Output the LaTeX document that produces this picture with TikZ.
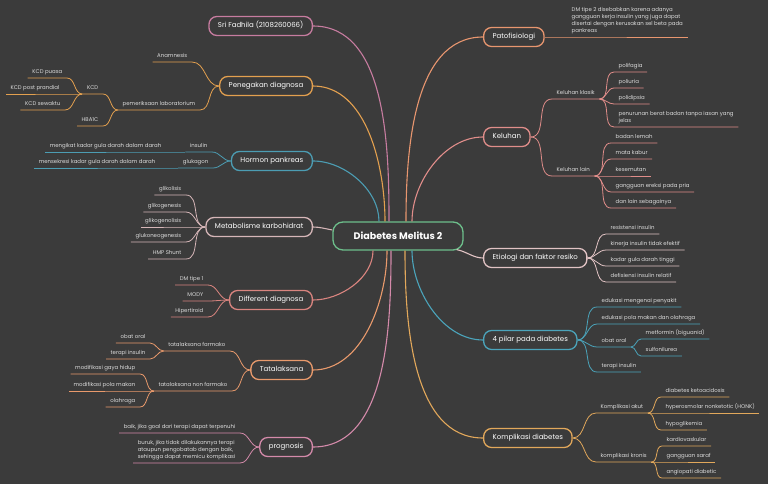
\documentclass[tikz,border=0pt]{standalone}
\usepackage{fontspec}
\setmainfont{Poppins}
\definecolor{bgc}{HTML}{3B3B3B}
\definecolor{txt}{HTML}{DCDCDC}
\definecolor{cDM}{HTML}{6DBF8B}
\definecolor{cSri}{HTML}{C77CA0}
\definecolor{cPen}{HTML}{E3A04F}
\definecolor{cHor}{HTML}{4C9DB3}
\definecolor{cMet}{HTML}{D6B6B8}
\definecolor{cDif}{HTML}{D9847F}
\definecolor{cTat}{HTML}{E99A6C}
\definecolor{cPro}{HTML}{D48AAA}
\definecolor{cPat}{HTML}{E8966F}
\definecolor{cKel}{HTML}{E08D8A}
\definecolor{cEti}{HTML}{E1C3C4}
\definecolor{cPil}{HTML}{4BA4BB}
\definecolor{cKom}{HTML}{E2A85B}

\begin{document}
\begin{tikzpicture}[x=1pt,y=1pt,
    topic/.style={draw=#1,rounded corners=8pt,line width=1.3pt,fill=bgc,text=white,
        font=\fontsize{7}{8}\selectfont,minimum height=19pt,inner xsep=9pt,
        text height=5.2pt,text depth=1.4pt},
    sub/.style={text=txt,font=\fontsize{5.4}{6.9}\selectfont,inner xsep=4.5pt,inner ysep=2.8pt,
        text depth=1.3pt,align=left},
    lk/.style={draw=#1,line width=.8pt},
    ml/.style={draw=#1,line width=1.1pt,looseness=0.9}]
    \fill[bgc] (0,0) rectangle (768,-484);
    \useasboundingbox (0,0) rectangle (768,-484);

    \node[draw=cDM,rounded corners=10pt,line width=1.3pt,fill=bgc,text=white,
        font=\bfseries\fontsize{9.5}{11}\selectfont,minimum height=28pt,minimum width=130pt]
        (dm) at (398,-236) {Diabetes Melitus 2};

    \node[topic=cSri,anchor=east] (sri) at (313,-26) {Sri Fadhila (2108260066)};
    \node[topic=cPen,anchor=east] (peneg) at (313,-86) {Penegakan diagnosa};
    \node[topic=cHor,anchor=east] (hormon) at (313,-161) {Hormon pankreas};
    \node[topic=cMet,anchor=east] (metab) at (313,-227) {Metabolisme karbohidrat};
    \node[topic=cDif,anchor=east] (diff) at (313,-300) {Different diagnosa};
    \node[topic=cTat,anchor=east] (tata) at (313,-370) {Tatalaksana};
    \node[topic=cPro,anchor=east] (prog) at (313,-447) {prognosis};

    \node[topic=cPat,anchor=west] (pato) at (483,-37) {Patofisiologi};
    \node[topic=cKel,anchor=west] (kel) at (483,-137) {Keluhan};
    \node[topic=cEti,anchor=west] (etio) at (483,-258) {Etiologi dan faktor resiko};
    \node[topic=cPil,anchor=west] (pilar) at (483,-340) {4 pilar pada diabetes};
    \node[topic=cKom,anchor=west] (komp) at (483,-438) {Komplikasi diabetes};

    \draw[ml=cSri] (sri.east) to[out=0,in=90] ([xshift=-9pt]dm.north);
    \draw[ml=cPen] (peneg.east) to[out=0,in=90] ([xshift=-13pt]dm.north);
    \draw[ml=cHor] (hormon.east) to[out=0,in=90] ([xshift=-19pt]dm.north);
    \draw[ml=cMet] (metab.east) to[out=0,in=170] ([yshift=6pt]dm.west);
    \draw[ml=cDif] (diff.east) to[out=0,in=-90] ([xshift=-25pt]dm.south);
    \draw[ml=cTat] (tata.east) to[out=0,in=-90] ([xshift=-11pt]dm.south);
    \draw[ml=cPro] (prog.east) to[out=0,in=-90] ([xshift=-7pt]dm.south);
    \draw[ml=cPat] (pato.west) to[out=180,in=90] ([xshift=8pt]dm.north);
    \draw[ml=cKel] (kel.west) to[out=180,in=90] ([xshift=14pt]dm.north);
    \draw[ml=cEti] (etio.west) to[out=180,in=-10] ([xshift=-7pt,yshift=1pt]dm.south east);
    \draw[ml=cPil] (pilar.west) to[out=180,in=-90] ([xshift=14pt]dm.south);
    \draw[ml=cKom] (komp.west) to[out=180,in=-90] ([xshift=7pt]dm.south);

    \node[sub,anchor=south east] (anam) at (192,-62) {Anamnesis};
    \node[sub,anchor=south east] (lab) at (200,-110) {pemeriksaan laboratorium};
    \node[sub,anchor=south east] (kcd) at (103,-94) {KCD};
    \node[sub,anchor=south east] (hba) at (103,-126) {HBA1C};
    \node[sub,anchor=south east] (puasa) at (67,-78) {KCD puasa};
    \node[sub,anchor=south east] (pp) at (64,-94) {KCD post prandial};
    \node[sub,anchor=south east] (sewaktu) at (65,-110) {KCD sewaktu};
    \draw[lk=cPen] (peneg.west) to[out=180,in=0] (anam.south east) -- (anam.south west);
    \draw[lk=cPen] (peneg.west) to[out=180,in=0] (lab.south east) -- (lab.south west);
    \draw[lk=cPen] (lab.south west) to[out=180,in=0] (kcd.south east) -- (kcd.south west);
    \draw[lk=cPen] (lab.south west) to[out=180,in=0] (hba.south east) -- (hba.south west);
    \draw[lk=cPen] (kcd.south west) to[out=180,in=0] (puasa.south east) -- (puasa.south west);
    \draw[lk=cPen] (kcd.south west) to[out=180,in=0] (pp.south east) -- (pp.south west);
    \draw[lk=cPen] (kcd.south west) to[out=180,in=0] (sewaktu.south east) -- (sewaktu.south west);

    \node[sub,anchor=south east] (insulin) at (212,-152) {insulin};
    \node[sub,anchor=south east] (ikat) at (166,-152) {mengikat kadar gula darah dalam darah};
    \node[sub,anchor=south east] (glukagon) at (213,-168) {glukagon};
    \node[sub,anchor=south east] (sekresi) at (160,-168) {mensekresi kadar gula darah dalam darah};
    \draw[lk=cHor] (hormon.west) to[out=180,in=0] (insulin.south east) -- (insulin.south west);
    \draw[lk=cHor] (insulin.south west) to (ikat.south east) -- (ikat.south west);
    \draw[lk=cHor] (hormon.west) to[out=180,in=0] (glukagon.south east) -- (glukagon.south west);
    \draw[lk=cHor] (glukagon.south west) to (sekresi.south east) -- (sekresi.south west);

    \node[sub,anchor=south east] (glikol) at (186,-195) {glikolisis};
    \node[sub,anchor=south east] (glikog) at (186,-212) {glikogenesis};
    \node[sub,anchor=south east] (glikogl) at (186,-227) {glikogenolisis};
    \node[sub,anchor=south east] (gluko) at (186,-242) {glukoneogenesis};
    \node[sub,anchor=south east] (hmp) at (186,-259) {HMP Shunt};
    \foreach \n in {glikol,glikog,glikogl,gluko,hmp}
        \draw[lk=cMet] (metab.west) to[out=180,in=0] (\n.south east) -- (\n.south west);

    \node[sub,anchor=south east] (dm1) at (208,-285) {DM tipe 1};
    \node[sub,anchor=south east] (mody) at (208,-301) {MODY};
    \node[sub,anchor=south east] (hiper) at (208,-317) {Hipertiroid};
    \foreach \n in {dm1,mody,hiper}
        \draw[lk=cDif] (diff.west) to[out=180,in=0] (\n.south east) -- (\n.south west);

    \node[sub,anchor=south east] (farm) at (230,-351) {tatalaksana farmako};
    \node[sub,anchor=south east] (nonf) at (232,-391) {tatalaksana non farmako};
    \node[sub,anchor=south east] (oral) at (150,-343) {obat oral};
    \node[sub,anchor=south east] (tins) at (150,-359) {terapi insulin};
    \node[sub,anchor=south east] (gaya) at (140,-374) {modifikasi gaya hidup};
    \node[sub,anchor=south east] (pola) at (140,-391) {modifikasi pola makan};
    \node[sub,anchor=south east] (olah) at (140,-407) {olahraga};
    \draw[lk=cTat] (tata.west) to[out=180,in=0] (farm.south east) -- (farm.south west);
    \draw[lk=cTat] (tata.west) to[out=180,in=0] (nonf.south east) -- (nonf.south west);
    \foreach \n in {oral,tins}
        \draw[lk=cTat] (farm.south west) to[out=180,in=0] (\n.south east) -- (\n.south west);
    \foreach \n in {gaya,pola,olah}
        \draw[lk=cTat] (nonf.south west) to[out=180,in=0] (\n.south east) -- (\n.south west);

    \node[sub,anchor=south east] (baik) at (240,-433) {baik, jika goal dari terapi dapat terpenuhi};
    \node[sub,anchor=south east] (buruk) at (240,-463) {buruk, jika tidak dilakukannya terapi\\ataupun pengobatab dengan baik,\\sehingga dapat memicu komplikasi};
    \foreach \n in {baik,buruk}
        \draw[lk=cPro] (prog.west) to[out=180,in=0] (\n.south east) -- (\n.south west);

    \node[sub,anchor=south west] (patotxt) at (567,-37) {DM tipe 2 disebabkan karena adanya\\gangguan kerja insulin yang juga dapat\\disertai dengan kerusakan sel beta pada\\pankreas};
    \draw[lk=cPat] (pato.east) to (patotxt.south west) -- (patotxt.south east);

    \node[sub,anchor=south west] (klasik) at (552,-99) {Keluhan klasik};
    \node[sub,anchor=south west] (lain) at (552,-176) {Keluhan lain};
    \node[sub,anchor=south west] (polifagia) at (614,-72) {polifagia};
    \node[sub,anchor=south west] (poliuria) at (614,-88) {poliuria};
    \node[sub,anchor=south west] (polidipsia) at (614,-104) {polidipsia};
    \node[sub,anchor=south west] (turun) at (614,-127) {penurunan berat badan tanpa iasan yang\\jelas};
    \node[sub,anchor=south west] (lemah) at (611,-143) {badan lemah};
    \node[sub,anchor=south west] (kabur) at (611,-159) {mata kabur};
    \node[sub,anchor=south west] (semut) at (611,-176) {kesemutan};
    \node[sub,anchor=south west] (ereksi) at (611,-192) {gangguan ereksi pada pria};
    \node[sub,anchor=south west] (dll) at (611,-208) {dan lain sebagainya};
    \foreach \n in {klasik,lain}
        \draw[lk=cKel] (kel.east) to[out=0,in=180] (\n.south west) -- (\n.south east);
    \foreach \n in {polifagia,poliuria,polidipsia,turun}
        \draw[lk=cKel] (klasik.south east) to[out=0,in=180] (\n.south west) -- (\n.south east);
    \foreach \n in {lemah,kabur,semut,ereksi,dll}
        \draw[lk=cKel] (lain.south east) to[out=0,in=180] (\n.south west) -- (\n.south east);

    \node[sub,anchor=south west] (resist) at (606,-234) {resistensi insulin};
    \node[sub,anchor=south west] (kinerja) at (606,-250) {kinerja insulin tidak efektif};
    \node[sub,anchor=south west] (kadar) at (606,-266) {kadar gula darah tinggi};
    \node[sub,anchor=south west] (defis) at (606,-282) {defisiensi insulin relatif};
    \foreach \n in {resist,kinerja,kadar,defis}
        \draw[lk=cEti] (etio.east) to[out=0,in=180] (\n.south west) -- (\n.south east);

    \node[sub,anchor=south west] (edu1) at (597,-307) {edukasi mengenai penyakit};
    \node[sub,anchor=south west] (edu2) at (597,-324) {edukasi pola makan dan olahraga};
    \node[sub,anchor=south west] (obat) at (597,-347) {obat oral};
    \node[sub,anchor=south west] (terins) at (597,-372) {terapi insulin};
    \node[sub,anchor=south west] (metf) at (641,-339) {metformin (biguanid)};
    \node[sub,anchor=south west] (sulfo) at (641,-356) {sulfonilurea};
    \foreach \n in {edu1,edu2,obat,terins}
        \draw[lk=cPil] (pilar.east) to[out=0,in=180] (\n.south west) -- (\n.south east);
    \foreach \n in {metf,sulfo}
        \draw[lk=cPil] (obat.south east) to[out=0,in=180] (\n.south west) -- (\n.south east);

    \node[sub,anchor=south west] (akut) at (596,-413) {Komplikasi akut};
    \node[sub,anchor=south west] (kronis) at (596,-462) {komplikasi kronis};
    \node[sub,anchor=south west] (keto) at (661,-397) {diabetes ketoacidosis};
    \node[sub,anchor=south west] (honk) at (661,-413) {hyperosmolar nonketotic (HONK)};
    \node[sub,anchor=south west] (hypo) at (661,-430) {hypoglikemia};
    \node[sub,anchor=south west] (kardio) at (662,-446) {kardiovaskular};
    \node[sub,anchor=south west] (saraf) at (662,-462) {gangguan saraf};
    \node[sub,anchor=south west] (angio) at (662,-478) {angiopati diabetic};
    \foreach \n in {akut,kronis}
        \draw[lk=cKom] (komp.east) to[out=0,in=180] (\n.south west) -- (\n.south east);
    \foreach \n in {keto,honk,hypo}
        \draw[lk=cKom] (akut.south east) to[out=0,in=180] (\n.south west) -- (\n.south east);
    \foreach \n in {kardio,saraf,angio}
        \draw[lk=cKom] (kronis.south east) to[out=0,in=180] (\n.south west) -- (\n.south east);
\end{tikzpicture}
\end{document}
